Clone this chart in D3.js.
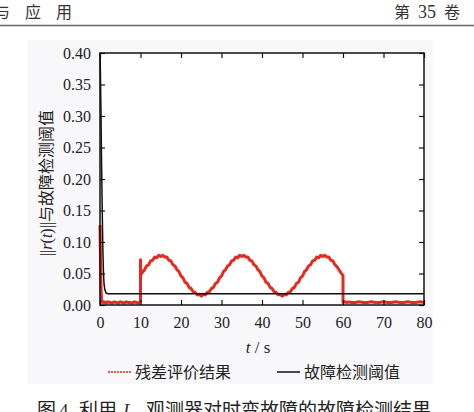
<!DOCTYPE html>
<html>
<head>
<meta charset="utf-8">
<script src="https://cdn.jsdelivr.net/npm/d3@7/dist/d3.min.js"></script>
<style>
  body { margin: 0; background: #ffffff; }
  svg { display: block; }
  .serif { font-family: "Liberation Serif", "Times New Roman", serif; }
  .tickLabel { font-family: "Liberation Serif", "Times New Roman", serif; font-size: 16px; fill: #222; }
  .cjk { font-family: "Noto Sans CJK SC", sans-serif; fill: #222; }
</style>
</head>
<body>
<svg id="chart" width="474" height="412"></svg>
<script>

/************************************************************************************************************/
// data

var xTicks = [0, 10, 20, 30, 40, 50, 60, 70, 80];
var yTicks = [0, 0.05, 0.10, 0.15, 0.20, 0.25, 0.30, 0.35, 0.40];

// residual evaluation before the fault (t, value)
var residualStart = [[0,0.127],[0.1,0.085],[0.2,0.045],[0.3,0.018],[0.4,0.008],[0.6,0.004],[1,0.005],
  [1.5,0.003],[2,0.005],[2.5,0.004],[3,0.003],[3.5,0.005],[4,0.004],[4.5,0.003],[5,0.005],[5.5,0.004],
  [6,0.003],[6.5,0.005],[7,0.004],[7.5,0.004],[8,0.003],[8.5,0.005],[9,0.004],[9.5,0.003],[10,0.005],
  [10,0.072]];

// residual evaluation during the time varying fault
var residualFault = [[10.05,0.048],[10.5,0.052],[11,0.056],[11.5,0.062],[12,0.064],[12.5,0.070],[13,0.071],
  [13.5,0.076],[14,0.075],[14.5,0.079],[15,0.077],[15.5,0.079],[16,0.076],[16.5,0.076],[17,0.071],[17.5,0.070],
  [18,0.064],[18.5,0.062],[19,0.056],[19.5,0.053],[20,0.046],[20.5,0.043],[21,0.036],[21.5,0.034],[22,0.028],
  [22.5,0.026],[23,0.021],[23.5,0.020],[24,0.016],[24.5,0.017],[25,0.014],[25.5,0.017],[26,0.016],[26.5,0.020],
  [27,0.021],[27.5,0.026],[28,0.028],[28.5,0.034],[29,0.036],[29.5,0.043],[30,0.046],[30.5,0.053],[31,0.056],
  [31.5,0.062],[32,0.064],[32.5,0.070],[33,0.071],[33.5,0.076],[34,0.075],[34.5,0.079],[35,0.077],[35.5,0.079],
  [36,0.076],[36.5,0.076],[37,0.071],[37.5,0.070],[38,0.064],[38.5,0.062],[39,0.056],[39.5,0.053],[40,0.046],
  [40.5,0.043],[41,0.036],[41.5,0.034],[42,0.028],[42.5,0.026],[43,0.021],[43.5,0.020],[44,0.016],[44.5,0.017],
  [45,0.014],[45.5,0.017],[46,0.016],[46.5,0.020],[47,0.021],[47.5,0.026],[48,0.028],[48.5,0.034],[49,0.036],
  [49.5,0.043],[50,0.046],[50.5,0.053],[51,0.056],[51.5,0.062],[52,0.064],[52.5,0.070],[53,0.071],[53.5,0.076],
  [54,0.075],[54.5,0.079],[55,0.077],[55.5,0.079],[56,0.076],[56.5,0.076],[57,0.071],[57.5,0.070],[58,0.064],
  [58.5,0.061],[59,0.056],[59.5,0.051],[60,0.047]];

// residual evaluation after the fault
var residualEnd = [[60,0.004],[60.5,0.005],[61,0.004],[61.5,0.005],[62,0.004],[63,0.004],[64,0.005],[65,0.004],
  [66,0.004],[67,0.005],[68,0.004],[69,0.004],[70,0.005],[71,0.004],[72,0.004],[73,0.005],[74,0.004],[75,0.004],
  [76,0.005],[77,0.004],[78,0.004],[79,0.005],[80,0.004]];

// fault detection threshold
var threshold = [[0,0.40],[0.1,0.37],[0.25,0.30],[0.4,0.22],[0.55,0.15],[0.7,0.09],[0.85,0.052],[1,0.033],
  [1.2,0.024],[1.5,0.019],[2,0.018],[80,0.018]];

/************************************************************************************************************/

var svg = d3.select("#chart");
svg.margin = {left: 100, top: 53, right: 50, bottom: 107};
svg.width = 324;
svg.height = 252;

// paper header
svg.append("text").attr("class", "cjk").attr("x", -6).attr("y", 18)
  .style("font-size", "16px").style("letter-spacing", "15px").style("fill", "#333").text("与应用");
svg.append("text").attr("class", "cjk").attr("x", 394).attr("y", 18)
  .style("font-size", "16px").style("fill", "#333").text("第");
svg.append("text").attr("class", "serif").attr("x", 418).attr("y", 18)
  .style("font-size", "18px").style("fill", "#333").text("35");
svg.append("text").attr("class", "cjk").attr("x", 444).attr("y", 18)
  .style("font-size", "16px").style("fill", "#333").text("卷");
svg.append("line").attr("x1", 0).attr("x2", 474).attr("y1", 25.5).attr("y2", 25.5)
  .attr("stroke", "#666").attr("stroke-width", 1.5);

// light figure background
svg.append("rect").attr("x", 27).attr("y", 40).attr("width", 406).attr("height", 344).attr("fill", "#f8f8fa");

var x = d3.scaleLinear().domain([0, 80]).range([0, svg.width]);
var y = d3.scaleLinear().domain([0, 0.4]).range([svg.height, 0]);

var g = svg.append("g").attr("transform", "translate(" + [svg.margin.left, svg.margin.top] + ")");

g.append("rect").attr("width", svg.width).attr("height", svg.height).attr("fill", "#ffffff");

var line = d3.line().x(function(d){ return x(d[0]); }).y(function(d){ return y(d[1]); });

// residual curve
var residual = residualStart.concat(residualFault, residualEnd);
g.append("path").datum(residual)
  .attr("d", line)
  .attr("fill", "none")
  .attr("stroke", "#e52a22")
  .attr("stroke-width", 3)
  .attr("stroke-linejoin", "round");

// threshold curve
g.append("path").datum(threshold)
  .attr("d", line)
  .attr("fill", "none")
  .attr("stroke", "#111")
  .attr("stroke-width", 1.5);

// axes, ticks inside on all four sides
var tickLen = 5;
var axisBottom = g.append("g").attr("transform", "translate(0," + svg.height + ")")
  .call(d3.axisBottom(x).tickValues(xTicks).tickSizeInner(-tickLen).tickSizeOuter(0).tickPadding(12));
var axisTop = g.append("g")
  .call(d3.axisTop(x).tickValues(xTicks).tickSizeInner(-tickLen).tickSizeOuter(0).tickFormat(""));
var axisLeft = g.append("g")
  .call(d3.axisLeft(y).tickValues(yTicks).tickSizeInner(-tickLen).tickSizeOuter(0).tickPadding(9)
    .tickFormat(d3.format(".2f")));
var axisRight = g.append("g").attr("transform", "translate(" + svg.width + ",0)")
  .call(d3.axisRight(y).tickValues(yTicks).tickSizeInner(-tickLen).tickSizeOuter(0).tickFormat(""));

[axisBottom, axisTop, axisLeft, axisRight].forEach(function(a){
  a.attr("font-family", null).attr("font-size", null);
  a.select(".domain").remove();
  a.selectAll(".tick line").attr("stroke", "#111").attr("stroke-width", 1.2);
  a.selectAll(".tick text").attr("class", "tickLabel").attr("fill", null);
});

// frame
g.append("rect").attr("width", svg.width).attr("height", svg.height)
  .attr("fill", "none").attr("stroke", "#111").attr("stroke-width", 1.5);

// y label
var ylabel = svg.append("text")
  .attr("transform", "translate(52," + (svg.margin.top + svg.height / 2 + 4) + ") rotate(-90)")
  .attr("text-anchor", "middle")
  .style("font-size", "16px").style("fill", "#222");
ylabel.append("tspan").attr("class", "serif").text("||");
ylabel.append("tspan").attr("class", "serif").style("font-style", "italic").text("r");
ylabel.append("tspan").attr("class", "serif").text("(");
ylabel.append("tspan").attr("class", "serif").style("font-style", "italic").text("t");
ylabel.append("tspan").attr("class", "serif").text(")||");
ylabel.append("tspan").attr("class", "cjk").text("与故障检测阈值");

// x label
var xlabel = svg.append("text").attr("class", "serif").attr("x", 258).attr("y", 353).attr("text-anchor", "middle")
  .style("font-size", "17px").style("fill", "#222");
xlabel.append("tspan").style("font-style", "italic").text("t");
xlabel.append("tspan").text(" / s");

// legend
var legend = svg.append("g").attr("transform", "translate(0,372)");
legend.append("line").attr("x1", 108).attr("x2", 131).attr("y1", 0).attr("y2", 0)
  .attr("stroke", "#e52a22").attr("stroke-width", 1.3).attr("stroke-dasharray", "2,1");
legend.append("text").attr("class", "cjk").attr("x", 135).attr("y", 6).style("font-size", "16px").text("残差评价结果");
legend.append("line").attr("x1", 277).attr("x2", 300).attr("y1", 0).attr("y2", 0)
  .attr("stroke", "#111").attr("stroke-width", 1.5);
legend.append("text").attr("class", "cjk").attr("x", 304).attr("y", 6).style("font-size", "16px").text("故障检测阈值");

// caption (cut at the bottom edge like the page scan)
var caption = svg.append("g").style("fill", "#333");
caption.append("text").attr("class", "cjk").attr("x", 37).attr("y", 417).style("font-size", "19px").text("图");
caption.append("text").attr("class", "serif").attr("x", 59).attr("y", 417).style("font-size", "19px").text("4");
caption.append("text").attr("class", "cjk").attr("x", 79).attr("y", 417).style("font-size", "19px").text("利用");
caption.append("text").attr("class", "serif").attr("x", 123).attr("y", 417).style("font-size", "19px")
  .style("font-style", "italic").text("L");
caption.append("text").attr("class", "serif").attr("x", 136).attr("y", 420).style("font-size", "10px").text("∞");
caption.append("text").attr("class", "cjk").attr("x", 146).attr("y", 417).style("font-size", "19px")
  .text("观测器对时变故障的故障检测结果");

</script>
</body>
</html>
